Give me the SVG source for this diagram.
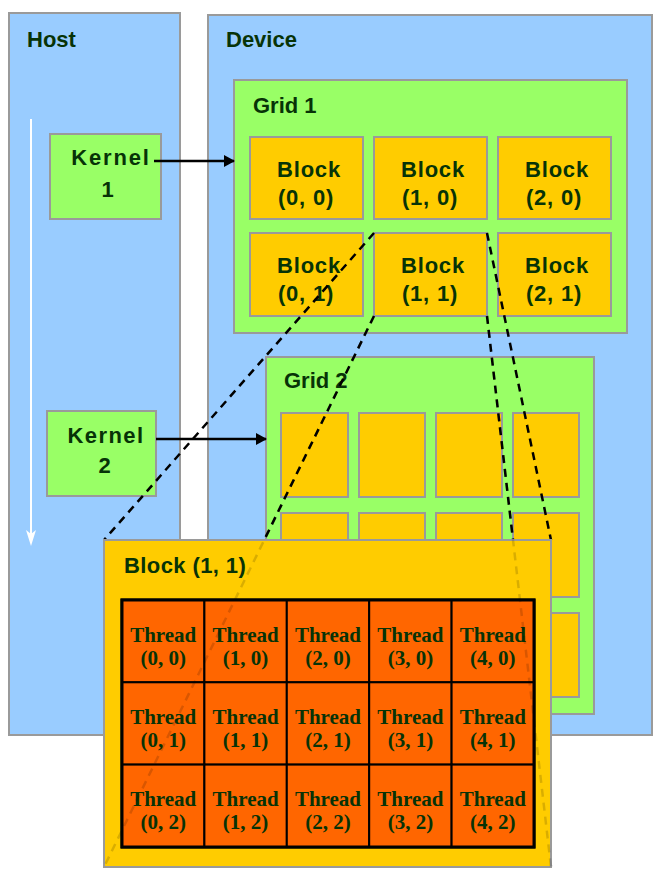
<svg xmlns="http://www.w3.org/2000/svg" width="656" height="872" viewBox="0 0 656 872">
<defs>
<style>
.panel{fill:#99ccff;stroke:#9a9a9a;stroke-width:2}
.grid{fill:#99ff66;stroke:#9a9a9a;stroke-width:2}
.blk{fill:#ffcc00;stroke:#9a9a9a;stroke-width:2}
.kern{fill:#99ff66;stroke:#9a9a9a;stroke-width:2}
.cell{fill:#ff6600;stroke:#000;stroke-width:2}
.lbl{font-family:"Liberation Sans",Arial,sans-serif;font-weight:bold;font-size:22px;fill:#073307}
.bl{font-family:"Liberation Sans",Arial,sans-serif;font-weight:bold;font-size:22px;fill:#073307;text-anchor:middle;letter-spacing:0.8px}
.th{font-family:"Liberation Serif","Times New Roman",serif;font-weight:bold;font-size:21px;fill:#073307;text-anchor:middle}
.dash{fill:none;stroke:#000;stroke-width:2.5;stroke-dasharray:8,6}
.arr{fill:none;stroke:#000;stroke-width:2.5}
</style>
<marker id="ah" markerWidth="11" markerHeight="12" refX="10" refY="6" orient="auto" markerUnits="userSpaceOnUse">
<path d="M0,0 L11,6 L0,12 Z" fill="#000"/>
</marker>
</defs>

<g id="host">
<rect class="panel" x="9" y="13" width="171" height="722"/>
<text class="lbl" x="27" y="47">Host</text>
<line x1="31" y1="119" x2="31" y2="538" stroke="#fff" stroke-width="2"/>
<path d="M26,530 L31,546 L36,530 L31,534 Z" fill="#fff"/>
</g>

<g id="device">
<rect class="panel" x="208" y="15" width="444" height="720"/>
<text class="lbl" x="226" y="47">Device</text>
</g>

<g id="grid1">
<rect class="grid" x="234" y="80" width="393" height="253"/>
<text class="lbl" x="253" y="113">Grid 1</text>
</g>
<g id="block-0-0"><rect class="blk" x="250" y="137" width="113" height="82"/><text class="bl" x="309" y="177">Block</text><text class="bl" x="306" y="205">(0, 0)</text></g>
<g id="block-1-0"><rect class="blk" x="374" y="137" width="113" height="82"/><text class="bl" x="433" y="177">Block</text><text class="bl" x="430" y="205">(1, 0)</text></g>
<g id="block-2-0"><rect class="blk" x="498" y="137" width="113" height="82"/><text class="bl" x="557" y="177">Block</text><text class="bl" x="554" y="205">(2, 0)</text></g>
<g id="block-0-1"><rect class="blk" x="250" y="233" width="113" height="83"/><text class="bl" x="309" y="273">Block</text><text class="bl" x="306" y="301">(0, 1)</text></g>
<g id="block-1-1"><rect class="blk" x="374" y="233" width="113" height="83"/><text class="bl" x="433" y="273">Block</text><text class="bl" x="430" y="301">(1, 1)</text></g>
<g id="block-2-1"><rect class="blk" x="498" y="233" width="113" height="83"/><text class="bl" x="557" y="273">Block</text><text class="bl" x="554" y="301">(2, 1)</text></g>

<g id="grid2">
<rect class="grid" x="266" y="357" width="328" height="357"/>
<text class="lbl" x="284" y="388">Grid 2</text>
<rect class="blk" x="281" y="413" width="67" height="84"/>
<rect class="blk" x="359" y="413" width="66" height="84"/>
<rect class="blk" x="436" y="413" width="66" height="84"/>
<rect class="blk" x="513" y="413" width="66" height="84"/>
<rect class="blk" x="281" y="513" width="67" height="84"/>
<rect class="blk" x="359" y="513" width="66" height="84"/>
<rect class="blk" x="436" y="513" width="66" height="84"/>
<rect class="blk" x="513" y="513" width="66" height="84"/>
<rect class="blk" x="281" y="613" width="67" height="84"/>
<rect class="blk" x="359" y="613" width="66" height="84"/>
<rect class="blk" x="436" y="613" width="66" height="84"/>
<rect class="blk" x="513" y="613" width="66" height="84"/>
</g>

<g id="kernel1">
<rect class="kern" x="50" y="134" width="111" height="85"/>
<text class="bl" x="111" y="165" style="letter-spacing:1.8px">Kernel</text>
<text class="bl" x="108" y="197">1</text>
</g>
<g id="kernel2">
<rect class="kern" x="47" y="411" width="109" height="85"/>
<text class="bl" x="106" y="443" style="letter-spacing:1.4px">Kernel</text>
<text class="bl" x="105" y="473">2</text>
</g>

<g id="connectors">
<line class="arr" x1="154" y1="161" x2="234" y2="161" marker-end="url(#ah)"/>
<line class="arr" x1="156" y1="439" x2="266" y2="439" marker-end="url(#ah)"/>
<line class="dash" x1="374" y1="233" x2="104" y2="540"/>
<line class="dash" x1="374" y1="316" x2="104" y2="867"/>
<line class="dash" x1="487" y1="233" x2="551" y2="540"/>
<line class="dash" x1="487" y1="316" x2="551" y2="867"/>
</g>

<g id="block-1-1-detail">
<rect class="blk" x="104" y="540" width="447" height="327"/>
<text class="lbl" x="124" y="573" style="letter-spacing:0.4px">Block (1, 1)</text>
<rect x="122" y="600" width="412" height="247" fill="#ff6600" stroke="#000" stroke-width="3"/>
</g>

<g id="threads">
<g id="t-0-0"><rect class="cell" x="122" y="600" width="82.4" height="82.3"/><text class="th" x="163.2" y="642">Thread</text><text class="th" x="163.2" y="665">(0, 0)</text></g>
<g id="t-1-0"><rect class="cell" x="204.4" y="600" width="82.4" height="82.3"/><text class="th" x="245.6" y="642">Thread</text><text class="th" x="245.6" y="665">(1, 0)</text></g>
<g id="t-2-0"><rect class="cell" x="286.8" y="600" width="82.4" height="82.3"/><text class="th" x="328" y="642">Thread</text><text class="th" x="328" y="665">(2, 0)</text></g>
<g id="t-3-0"><rect class="cell" x="369.2" y="600" width="82.4" height="82.3"/><text class="th" x="410.4" y="642">Thread</text><text class="th" x="410.4" y="665">(3, 0)</text></g>
<g id="t-4-0"><rect class="cell" x="451.6" y="600" width="82.4" height="82.3"/><text class="th" x="492.8" y="642">Thread</text><text class="th" x="492.8" y="665">(4, 0)</text></g>
<g id="t-0-1"><rect class="cell" x="122" y="682.3" width="82.4" height="82.3"/><text class="th" x="163.2" y="724">Thread</text><text class="th" x="163.2" y="747">(0, 1)</text></g>
<g id="t-1-1"><rect class="cell" x="204.4" y="682.3" width="82.4" height="82.3"/><text class="th" x="245.6" y="724">Thread</text><text class="th" x="245.6" y="747">(1, 1)</text></g>
<g id="t-2-1"><rect class="cell" x="286.8" y="682.3" width="82.4" height="82.3"/><text class="th" x="328" y="724">Thread</text><text class="th" x="328" y="747">(2, 1)</text></g>
<g id="t-3-1"><rect class="cell" x="369.2" y="682.3" width="82.4" height="82.3"/><text class="th" x="410.4" y="724">Thread</text><text class="th" x="410.4" y="747">(3, 1)</text></g>
<g id="t-4-1"><rect class="cell" x="451.6" y="682.3" width="82.4" height="82.3"/><text class="th" x="492.8" y="724">Thread</text><text class="th" x="492.8" y="747">(4, 1)</text></g>
<g id="t-0-2"><rect class="cell" x="122" y="764.6" width="82.4" height="82.4"/><text class="th" x="163.2" y="806">Thread</text><text class="th" x="163.2" y="829">(0, 2)</text></g>
<g id="t-1-2"><rect class="cell" x="204.4" y="764.6" width="82.4" height="82.4"/><text class="th" x="245.6" y="806">Thread</text><text class="th" x="245.6" y="829">(1, 2)</text></g>
<g id="t-2-2"><rect class="cell" x="286.8" y="764.6" width="82.4" height="82.4"/><text class="th" x="328" y="806">Thread</text><text class="th" x="328" y="829">(2, 2)</text></g>
<g id="t-3-2"><rect class="cell" x="369.2" y="764.6" width="82.4" height="82.4"/><text class="th" x="410.4" y="806">Thread</text><text class="th" x="410.4" y="829">(3, 2)</text></g>
<g id="t-4-2"><rect class="cell" x="451.6" y="764.6" width="82.4" height="82.4"/><text class="th" x="492.8" y="806">Thread</text><text class="th" x="492.8" y="829">(4, 2)</text></g>
<rect x="122" y="600" width="412" height="247" fill="none" stroke="#000" stroke-width="3"/>
</g>

<g id="connectors-faint" opacity="0.15">
<line class="dash" x1="374" y1="316" x2="104" y2="867"/>
<line class="dash" x1="487" y1="316" x2="551" y2="867"/>
</g>
</svg>
